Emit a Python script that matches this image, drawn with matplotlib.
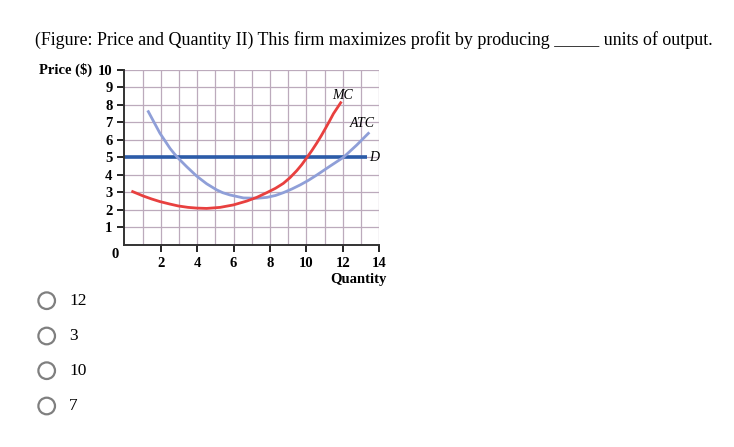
import matplotlib.pyplot as plt
from matplotlib.patches import Circle

question = "(Figure: Price and Quantity II) This firm maximizes profit by producing _____ units of output."
options = ["12", "3", "10", "7"]

# curve readings (quantity, price)
mc_q = [0.46, 1.04, 1.5, 1.96, 2.5, 2.97, 3.5, 3.97, 4.52, 5.26, 5.99, 6.72, 7.27,
        7.82, 8.3, 8.73, 9.1, 9.47, 9.75, 10.02, 10.3, 10.57, 10.8, 11.02, 11.25,
        11.48, 11.88]
mc_p = [3.05, 2.8, 2.63, 2.48, 2.34, 2.23, 2.15, 2.11, 2.09, 2.15, 2.29, 2.51, 2.72,
        2.99, 3.24, 3.52, 3.85, 4.25, 4.6, 4.99, 5.4, 5.83, 6.22, 6.62, 7.05,
        7.5, 8.13]
atc_q = [1.32, 1.65, 1.96, 2.25, 2.51, 2.75, 2.97, 3.43, 3.97, 4.52, 5.07, 5.4, 5.8,
         6.54, 7.27, 7.82, 8.3, 8.73, 9.2, 9.65, 10.1, 10.57, 11.3, 12.03, 12.76, 13.4]
atc_p = [7.62, 6.98, 6.38, 5.93, 5.52, 5.21, 4.95, 4.47, 3.94, 3.5, 3.15, 2.99, 2.86,
         2.69, 2.67, 2.72, 2.83, 2.99, 3.2, 3.43, 3.69, 4.0, 4.51, 5.01, 5.71, 6.38]
demand_q = [0, 13.3]
demand_p = [5, 5]

x_ticks = [2, 4, 6, 8, 10, 12, 14]
y_ticks = [1, 2, 3, 4, 5, 6, 7, 8, 9, 10]

W, H = 734, 447
fig = plt.figure(figsize=(W / 100, H / 100), dpi=100)
serif = "Liberation Serif"

fig.text(35 / W, 1 - 40 / H, question, fontsize=12.9, family=serif, va="center")

grid_col = "#bcaabc"
ax = fig.add_axes([124.3 / W, 1 - 245 / H, 255 / W, 175 / H])
ax.set_xlim(0, 14)
ax.set_ylim(0, 10)
for v in range(1, 15):
    ax.axvline(v, color=grid_col, lw=0.9, zorder=0)
for v in range(1, 11):
    ax.axhline(v, color=grid_col, lw=0.9, zorder=0)
for s in ["top", "right"]:
    ax.spines[s].set_visible(False)
for s in ["left", "bottom"]:
    ax.spines[s].set_linewidth(1.4)
    ax.spines[s].set_color("#333333")

ax.plot(demand_q, demand_p, color="#2b5ba8", lw=2.6, solid_capstyle="butt", zorder=2)
ax.plot(atc_q, atc_p, color="#8f9fd8", lw=2.0, zorder=3)
ax.plot(mc_q, mc_p, color="#e8403f", lw=2.0, zorder=4)

ax.text(11.4, 8.57, "MC", fontsize=10, family=serif, style="italic", va="center")
ax.text(12.4, 6.95, "ATC", fontsize=10, family=serif, style="italic", va="center")
ax.text(13.45, 5, "D", fontsize=10, family=serif, style="italic", va="center")

ax.set_xticks(x_ticks)
ax.set_yticks(y_ticks)
ax.tick_params(axis="both", length=5, width=1.2, labelsize=10.5, pad=3.5)
for lab in ax.get_xticklabels() + ax.get_yticklabels():
    lab.set_family(serif)
    lab.set_fontweight("bold")
ax.text(-0.51, -0.53, "0", fontsize=10.5, family=serif, fontweight="bold",
        ha="center", va="center", clip_on=False)
ax.text(-1.75, 10, "Price ($)", fontsize=10.5, family=serif, fontweight="bold",
        ha="right", va="center")
ax.text(14.41, -2.0, "Quantity", fontsize=10.5, family=serif, fontweight="bold",
        ha="right", va="center")

# answer options
ov = fig.add_axes([0, 0, 1, 1])
ov.set_xlim(0, W)
ov.set_ylim(H, 0)
ov.axis("off")
ys = [300.7, 336, 370.7, 406]
for y, opt in zip(ys, options):
    ov.add_patch(Circle((46.7, y), 8.3, fill=False, ec="#7f7f7f", lw=1.6))
    ov.text(69, y, opt, fontsize=12.5, family=serif, va="center")

fig.savefig("out.png", dpi=100)
